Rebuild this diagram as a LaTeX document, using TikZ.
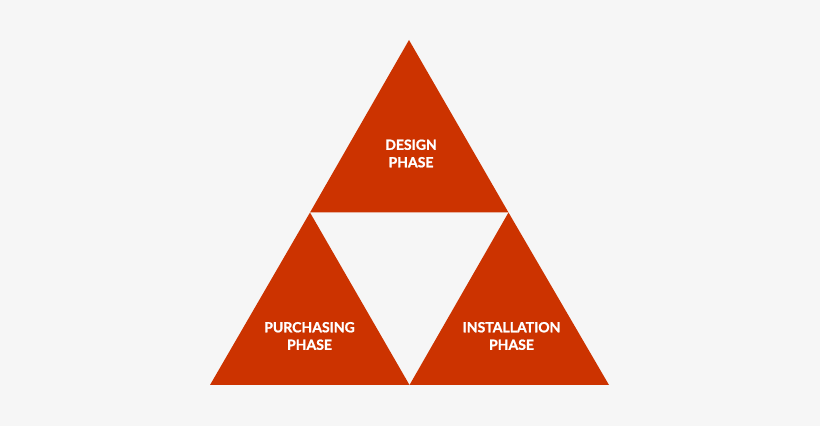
\documentclass[tikz,border=0pt]{standalone}
\usepackage{fontspec}
\setmainfont{Lato}
\newfontfamily\lblfont[FakeBold=1.2]{Lato Bold}
\definecolor{bgc}{HTML}{F6F6F6}
\definecolor{tri}{HTML}{CC3300}
\begin{document}
\begin{tikzpicture}[x=1pt,y=1pt,
  tri/.style={fill=tri,draw=none},
  lbl/.style={text=white,font=\lblfont\fontsize{14}{17.5}\selectfont,align=center,inner sep=0pt}]
\fill[bgc] (0,0) rectangle (820,426);
\useasboundingbox (0,0) rectangle (820,426);
\coordinate (A) at (409,386);
\coordinate (B) at (310,213.5);
\coordinate (C) at (508.5,213.5);
\coordinate (D) at (210,41);
\coordinate (E) at (409.5,41);
\coordinate (F) at (609,41);
\fill[tri] (A) -- (B) -- (C) -- cycle;
\fill[tri] (B) -- (D) -- (E) -- cycle;
\fill[tri] (C) -- (E) -- (F) -- cycle;
\node[lbl] (design) at (411,272.5) {DESIGN\\PHASE};
\node[lbl] (purch) at (309.5,90) {PURCHASING\\PHASE};
\node[lbl] (inst) at (511.5,90) {INSTALLATION\\PHASE};
\end{tikzpicture}
\end{document}
